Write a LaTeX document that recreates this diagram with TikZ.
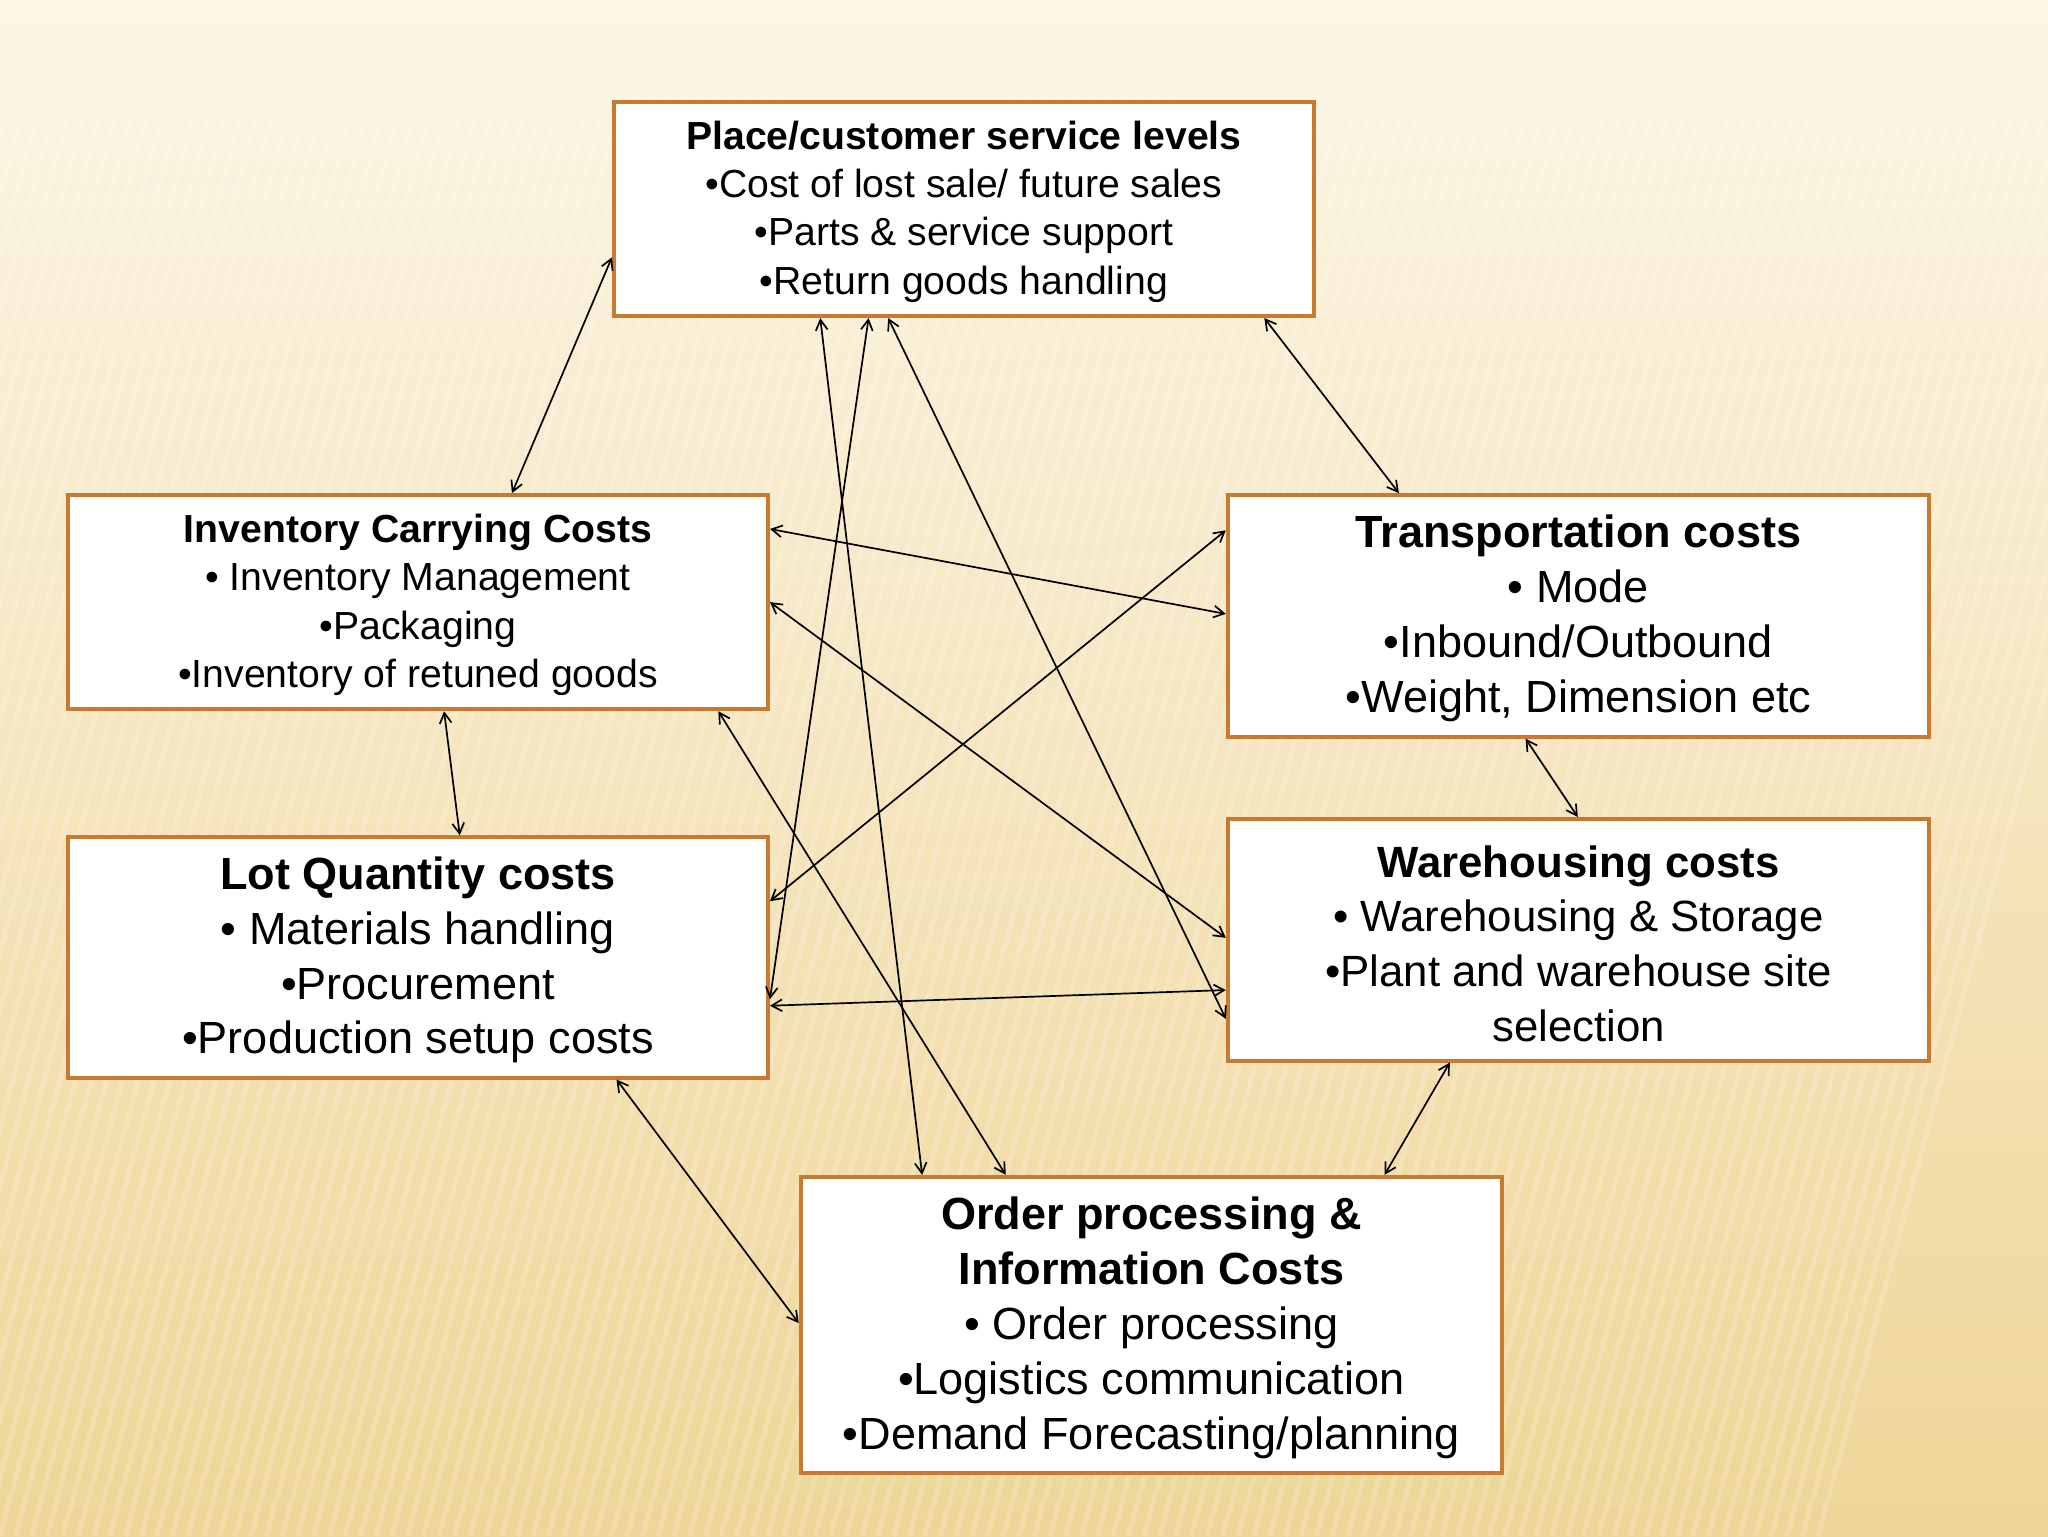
\documentclass[tikz,border=0pt]{standalone}
\usepackage{fontspec}
\setmainfont{Liberation Sans}
\usetikzlibrary{arrows.meta}
\definecolor{bord}{HTML}{C87A30}
\definecolor{bgtop}{HTML}{FCF6E6}
\definecolor{bgbot}{HTML}{EFD597}
\tikzset{
 box/.style={draw=bord,line width=3pt,fill=white,inner sep=0pt},
 lnk/.style={{Straight Barb[length=8pt,width=9pt]}-{Straight Barb[length=8pt,width=9pt]},line width=1.3pt,black}
}
\begin{document}
\begin{tikzpicture}[x=1pt,y=-1pt]
\useasboundingbox (0,0) rectangle (1568,1176);
\shade[top color=bgtop,bottom color=bgbot] (0,0) rectangle (1568,1176);
\foreach \i in {0,12,...,1700} {\draw[white,opacity=0.18,line width=4pt] (\i-300,1176) -- (\i,60);}
\node[box,minimum width=536pt,minimum height=164pt] (place) at (738,160) {};
\node[box,minimum width=536pt,minimum height=164pt] (inv) at (320,461) {};
\node[box,minimum width=537pt,minimum height=185pt] (tr) at (1208.5,471.5) {};
\node[box,minimum width=536pt,minimum height=184pt] (lot) at (320,733) {};
\node[box,minimum width=537pt,minimum height=185pt] (wh) at (1208.5,719.5) {};
\node[box,minimum width=537pt,minimum height=227pt] (ord) at (881.5,1014.5) {};
\node[align=center,font=\fontsize{30pt}{37pt}\selectfont] (tplace) at ([yshift=-2pt]place.center) {\textbf{Place/customer service levels}\\•Cost of lost sale/ future sales\\•Parts \& service support\\•Return goods handling};
\node[align=center,font=\fontsize{30pt}{37pt}\selectfont] (tinv) at ([yshift=-2pt]inv.center) {\textbf{Inventory Carrying Costs}\\• Inventory Management\\•Packaging\\•Inventory of retuned goods};
\node[align=center,font=\fontsize{34.5pt}{42pt}\selectfont] (ttr) at ([yshift=-2pt]tr.center) {\textbf{Transportation costs}\\• Mode\\•Inbound/Outbound\\•Weight, Dimension etc};
\node[align=center,font=\fontsize{34.5pt}{42pt}\selectfont] (tlot) at ([yshift=-2pt]lot.center) {\textbf{Lot Quantity costs}\\• Materials handling\\•Procurement\\•Production setup costs};
\node[align=center,font=\fontsize{33.5pt}{42pt}\selectfont] (twh) at ([yshift=-3pt]wh.center) {\textbf{Warehousing costs}\\• Warehousing \& Storage\\•Plant and warehouse site\\selection};
\node[align=center,font=\fontsize{34.5pt}{42pt}\selectfont] (tord) at ([yshift=-2pt]ord.center) {\textbf{Order processing \&}\\\textbf{Information Costs}\\• Order processing\\•Logistics communication\\•Demand Forecasting/planning};
\draw[lnk] (place.west |- 0,197) -- (inv.north -| 392,0);
\draw[lnk] (place.south -| 968,0) -- (tr.north -| 1071,0);
\draw[lnk] (inv.east |- 0,405) -- (tr.west |- 0,470);
\draw[lnk] (inv.east |- 0,461) -- (wh.west |- 0,718);
\draw[lnk] (inv.south -| 550,0) -- (ord.north -| 770,0);
\draw[lnk] (inv.south -| 340,0) -- (lot.north -| 352,0);
\draw[lnk] (lot.east |- 0,690) -- (tr.west |- 0,406);
\draw[lnk] (lot.east |- 0,770) -- (wh.west |- 0,758);
\draw[lnk] (lot.south -| 472,0) -- (ord.west |- 0,1013);
\draw[lnk] (tr.south -| 1168,0) -- (wh.north -| 1208,0);
\draw[lnk] (wh.south -| 1110,0) -- (ord.north -| 1060,0);
\draw[lnk] (place.south -| 628,0) -- (ord.north -| 706,0);
\draw[lnk] (place.south -| 665,0) -- (lot.east |- 0,765);
\draw[lnk] (place.south -| 680,0) -- (wh.west |- 0,780);
\end{tikzpicture}
\end{document}
